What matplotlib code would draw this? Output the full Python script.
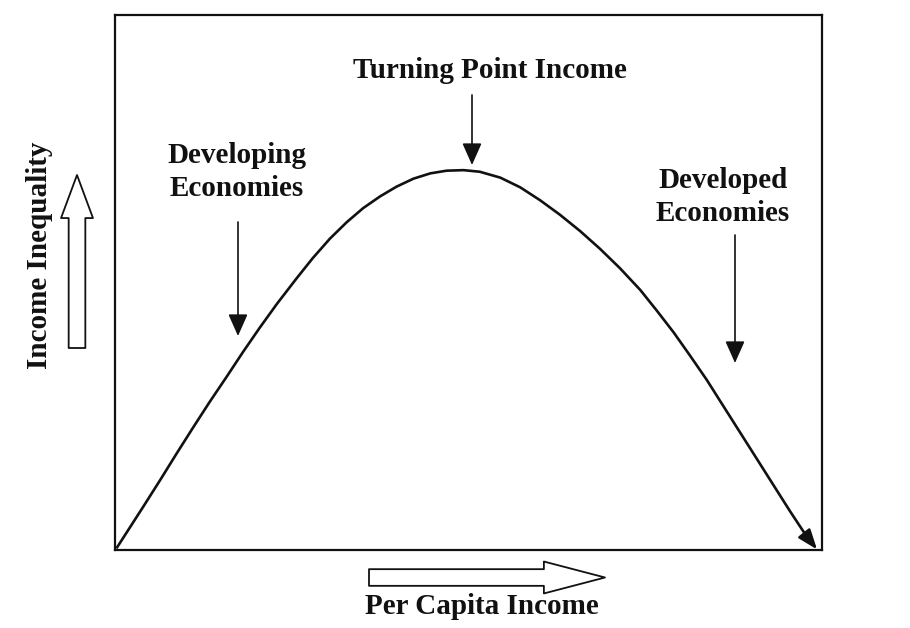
import matplotlib.pyplot as plt

# curve (0-100 on both axes)
income = [0.2, 4.0, 6.4, 8.7, 11.1, 13.4, 15.8, 18.1, 20.5, 22.9, 25.7, 28.0,
          30.4, 32.8, 35.1, 37.5, 39.8, 42.2, 44.6, 46.9, 49.3, 51.6, 54.5,
          57.3, 60.1, 62.9, 65.8, 68.6, 71.4, 74.3, 76.6, 79.0, 81.3, 83.7,
          86.0, 88.4, 90.8, 93.1, 95.5, 97.8, 99.3]
inequality = [0.3, 8.1, 13.1, 18.0, 23.0, 27.7, 32.4, 37.0, 41.6, 46.0, 50.8, 54.6,
              58.2, 61.3, 63.9, 66.1, 67.9, 69.4, 70.4, 70.9, 71.0, 70.7, 69.6,
              67.8, 65.4, 62.7, 59.6, 56.3, 52.7, 48.6, 44.8, 40.7, 36.4, 31.8,
              27.0, 22.0, 17.0, 12.2, 7.2, 2.6, 0.1]

serif = dict(family="Liberation Serif", fontweight="bold", color="#111111")

fig = plt.figure(figsize=(9.1, 6.28), dpi=100)
ax = fig.add_axes([115 / 910, 1 - 550 / 628, 707 / 910, 535 / 628])
ax.set_xlim(0, 100)
ax.set_ylim(0, 100)
ax.set_xticks([])
ax.set_yticks([])
for s in ax.spines.values():
    s.set_linewidth(1.6)
    s.set_color("#111111")

ax.plot(income[:-1], inequality[:-1], color="#111111", lw=1.9,
        solid_joinstyle="round", solid_capstyle="butt")
ax.annotate("", xy=(income[-1], inequality[-1]), xytext=(income[-2], inequality[-2]),
            arrowprops=dict(arrowstyle="-|>,head_length=1.2,head_width=0.45",
                            color="#111111", lw=1.9, shrinkA=0, shrinkB=0),
            annotation_clip=False)

# pixel helper for figure fraction
def fp(x, y):
    return (x / 910, 1 - y / 628)

def down_arrow(x, y0, y1):
    ax.annotate("", xy=fp(x, y1), xytext=fp(x, y0), xycoords="figure fraction",
                textcoords="figure fraction",
                arrowprops=dict(arrowstyle="-|>,head_length=1.35,head_width=0.6",
                                color="#111111", lw=1.2, shrinkA=0, shrinkB=0))

fig.text(*fp(490, 71), "Turning Point Income", ha="center", va="center", fontsize=21, **serif)
down_arrow(472, 95, 165)

fig.text(*fp(237, 172), "Developing\nEconomies", ha="center", va="center", fontsize=21,
         linespacing=1.25, **serif)
down_arrow(238, 222, 336)

fig.text(*fp(723, 197), "Developed\nEconomies", ha="center", va="center", fontsize=21,
         linespacing=1.25, **serif)
down_arrow(735, 235, 363)

fig.text(*fp(40, 255), "Income Inequality", ha="center", va="center", rotation=90,
         fontsize=21, **serif)
fig.text(*fp(482, 606), "Per Capita Income", ha="center", va="center", fontsize=21, **serif)

hollow_y = dict(arrowstyle="simple,head_length=31,head_width=23,tail_width=12",
                mutation_scale=1, fc="white", ec="#111111", lw=1.3, shrinkA=0, shrinkB=0)
hollow_x = dict(arrowstyle="simple,head_length=44,head_width=23,tail_width=12",
                mutation_scale=1, fc="white", ec="#111111", lw=1.3, shrinkA=0, shrinkB=0)
ax.annotate("", xy=fp(77, 175), xytext=fp(77, 348), xycoords="figure fraction",
            textcoords="figure fraction", arrowprops=hollow_y)
ax.annotate("", xy=fp(605, 577.5), xytext=fp(369, 577.5), xycoords="figure fraction",
            textcoords="figure fraction", arrowprops=hollow_x)

fig.savefig("out.png", dpi=100, facecolor="white")
